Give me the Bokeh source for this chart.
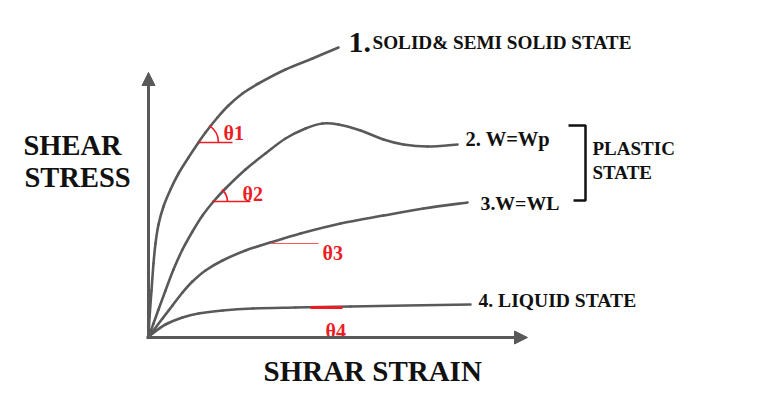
from bokeh.plotting import figure
from bokeh.models import Range1d, Arrow, NormalHead
from bokeh.core.properties import value
from bokeh.embed import file_html
from bokeh.resources import INLINE

# ---- data (strain, stress) ----
solid_strain = [0, 1, 3, 5, 7, 10, 15, 22, 30, 40, 50, 57, 69, 80, 94, 110, 137, 164, 190]
solid_stress = [0, 20, 47, 74, 94, 113, 131, 148, 164, 180, 195, 205, 220, 232, 244, 254, 268, 279, 290]

plastic_strain = [0, 5, 10, 17, 25, 34, 44, 54, 65, 77, 97, 117, 137, 157, 174, 190, 212, 235, 255, 279, 309]
plastic_stress = [0, 14, 28, 47, 68, 88, 106, 122, 136, 149, 168, 184, 199, 209, 214, 213, 207, 198, 193, 191, 193]

liquid_limit_strain = [0, 5, 14, 24, 34, 44, 57, 74, 97, 122, 152, 192, 235, 275, 319]
liquid_limit_stress = [0, 7, 19, 32, 45, 56, 67, 77, 87, 95, 104, 114, 122, 129, 135]

liquid_strain = [0, 4, 17, 34, 50, 74, 104, 147, 202, 322]
liquid_stress = [0, 4, 13, 20, 24, 27, 29, 30, 31, 33]

axis_x_end = 379
axis_y_end = 265

curve_labels = ["SOLID& SEMI SOLID STATE", "2. W=Wp", "3.W=WL", "4. LIQUID STATE"]
theta_labels = ["\u03b81", "\u03b82", "\u03b83", "\u03b84"]

FONT = value("Liberation Serif")
GRAY = "#595959"
RED = "#ec1c24"

p = figure(width=760, height=385, output_backend="svg", toolbar_location=None,
           x_range=Range1d(-148, 612), y_range=Range1d(-48, 337),
           x_axis_location=None, y_axis_location=None, min_border=0)
p.grid.visible = False
p.outline_line_color = None
p.background_fill_color = "white"
p.border_fill_color = "white"

# axes as arrows
p.add_layout(Arrow(end=NormalHead(size=13, fill_color=GRAY, line_color=GRAY),
                   x_start=-2, y_start=0, x_end=axis_x_end, y_end=0,
                   line_color=GRAY, line_width=3))
p.add_layout(Arrow(end=NormalHead(size=13, fill_color=GRAY, line_color=GRAY),
                   x_start=0, y_start=-1, x_end=0, y_end=axis_y_end,
                   line_color=GRAY, line_width=3))


def smooth_curve(xs, ys):
    """Draw a smooth (Catmull-Rom style) path through the read points with bezier glyphs."""
    n = len(xs)
    X0, Y0, X1, Y1, CX0, CY0, CX1, CY1 = [], [], [], [], [], [], [], []
    for i in range(n - 1):
        a = max(i - 1, 0)
        d = min(i + 2, n - 1)
        X0.append(xs[i]); Y0.append(ys[i])
        X1.append(xs[i + 1]); Y1.append(ys[i + 1])
        CX0.append(xs[i] + (xs[i + 1] - xs[a]) / 6.0)
        CY0.append(ys[i] + (ys[i + 1] - ys[a]) / 6.0)
        CX1.append(xs[i + 1] - (xs[d] - xs[i]) / 6.0)
        CY1.append(ys[i + 1] - (ys[d] - ys[i]) / 6.0)
    p.bezier(x0=X0, y0=Y0, x1=X1, y1=Y1, cx0=CX0, cy0=CY0, cx1=CX1, cy1=CY1,
             line_color=GRAY, line_width=2.6, line_cap="round")


for xs, ys in [(solid_strain, solid_stress), (plastic_strain, plastic_stress),
               (liquid_limit_strain, liquid_limit_stress), (liquid_strain, liquid_stress)]:
    smooth_curve(xs, ys)

# angle marks
p.segment(x0=[50], y0=[195], x1=[84], y1=[195], line_color=RED, line_width=1.6)
p.arc(x=[50], y=[195], radius=20, start_angle=0, end_angle=1.0, line_color=RED, line_width=1.6)
p.segment(x0=[64], y0=[136], x1=[102], y1=[136], line_color=RED, line_width=1.6)
p.arc(x=[64], y=[136], radius=15, start_angle=0, end_angle=0.9, line_color=RED, line_width=1.6)
p.segment(x0=[122], y0=[94], x1=[170], y1=[94], line_color="#f25a5f", line_width=1)
p.segment(x0=[162], y0=[30], x1=[194], y1=[30], line_color=RED, line_width=3)

# theta labels
p.text(x=[75, 94, 174, 177], y=[205, 144, 85, 7], text=theta_labels,
       text_font=FONT, text_font_style="bold", text_font_size="20px",
       text_color=RED, text_baseline="alphabetic", text_align="left")

# curve labels
p.text(x=[200], y=[295], text=["1."], text_font=FONT, text_font_style="bold",
       text_font_size="30px", text_color="#111111", text_baseline="alphabetic")
p.text(x=[224, 317, 332, 330], y=[295, 199, 135, 37], text=curve_labels,
       text_font=FONT, text_font_style="bold",
       text_font_size=["19.2px", "20.5px", "19.8px", "19.6px"],
       text_color="#111111", text_baseline="alphabetic")

# plastic bracket
p.line([420, 437, 437, 425], [212, 212, 137, 137], line_color="#111111", line_width=2.5)
p.text(x=[444, 444], y=[189, 165], text=["PLASTIC", "STATE"], text_font=FONT,
       text_font_style="bold", text_font_size="19px", text_color="#111111",
       text_baseline="alphabetic")

# axis titles
p.text(x=[-125, -124], y=[192, 160], text=["SHEAR", "STRESS"], text_font=FONT,
       text_font_style="bold", text_font_size="28.5px", text_color="#111111",
       text_baseline="alphabetic")
p.text(x=[115], y=[-33], text=["SHRAR STRAIN"], text_font=FONT,
       text_font_style="bold", text_font_size="29px", text_color="#111111",
       text_baseline="alphabetic")

open("out.html", "w").write(file_html(p, INLINE))
